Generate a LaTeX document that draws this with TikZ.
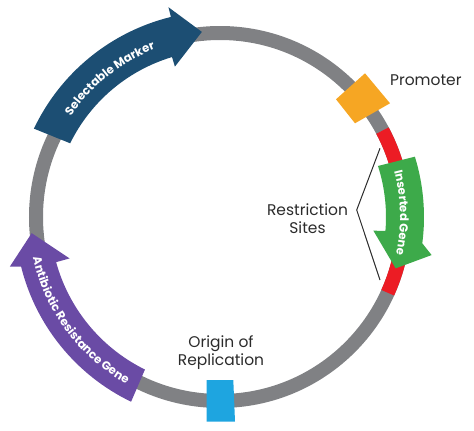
\documentclass[tikz,border=0pt]{standalone}
\usepackage{fontspec}
\setmainfont{Poppins}
\usetikzlibrary{decorations.text}
\definecolor{ringgray}{HTML}{808184}
\definecolor{smblue}{HTML}{1C4E73}
\definecolor{promo}{HTML}{F6A623}
\definecolor{rsred}{HTML}{EC1C24}
\definecolor{igreen}{HTML}{3DAA4A}
\definecolor{argpurple}{HTML}{6A4BA5}
\definecolor{oriblue}{HTML}{1EA5E0}
\definecolor{lblgray}{HTML}{2B2B2B}
\tikzset{
  ring/.style={draw=ringgray, line width=10.5pt},
  rsseg/.style={draw=rsred, line width=10.5pt},
  lbl/.style={text=lblgray, font=\fontsize{11.6}{13.5}\selectfont, align=center, inner sep=0pt},
  bracketline/.style={draw=lblgray, line width=0.75pt},
  arrowtext/.style={decorate, decoration={text along path, text align=center, text color=white}}
}
\begin{document}
\begin{tikzpicture}[x=0.75pt,y=0.75pt]
\useasboundingbox (0,0) rectangle (474,430);
\begin{scope}[shift={(220,213)}]
  % plasmid ring
  \draw[ring] (0,0) circle[radius=184];
  % restriction sites segment
  \draw[rsseg] (28:184) arc[start angle=28, end angle=-24.3, radius=184];
  % selectable marker arrow
  \fill[smblue] (153.8:167) arc[start angle=153.8, end angle=106.7, radius=167]
    -- (106.7:157) -- (95.6:186) -- (103.8:216) -- (103.8:206)
    arc[start angle=103.8, end angle=154.6, radius=206] -- cycle;
  % inserted gene arrow
  \fill[igreen] (17.2:204) arc[start angle=17.2, end angle=-7.4, radius=204]
    -- (-10.2:215) -- (-16.3:183) -- (-5.1:154) -- (-4.8:166)
    arc[start angle=-4.8, end angle=17.9, radius=166] -- cycle;
  % antibiotic resistance arrow
  \fill[argpurple] (244.3:205) arc[start angle=244.3, end angle=194, radius=205]
    -- (193.3:216) -- (184.9:189) -- (195.4:156) -- (195.4:170)
    arc[start angle=195.4, end angle=243.8, radius=170] -- cycle;
  % arrow texts
  \path[arrowtext, decoration={text={|\bfseries\fontsize{8.8}{9}\selectfont|Selectable Marker}}]
    (153:180) arc[start angle=153, end angle=104, radius=180];
  \path[arrowtext, decoration={text={|\bfseries\fontsize{8.8}{9}\selectfont|Inserted Gene}}]
    (26:180) arc[start angle=26, end angle=-23.4, radius=180];
  \path[arrowtext, decoration={text={|\bfseries\fontsize{8.8}{9}\selectfont|Antibiotic Resistance Gene}}]
    (186.5:191.5) arc[start angle=186.5, end angle=246.5, radius=191.5];
\end{scope}
% promoter block
\fill[promo] (336,330.7) -- (365,356.7) -- (390,326.7) -- (355,306.7) -- cycle;
% origin of replication block
\fill[oriblue] (206.7,50) -- (233.3,50) -- (235,8.3) -- (206.7,8.3) -- cycle;
% labels
\node[lbl] (promoterlbl) at (425.8,350) {Promoter};
\node[lbl] (rslbl) at (307.5,211) {Restriction\\Sites};
\node[lbl] (orilbl) at (221,77) {Origin of\\Replication};
% restriction sites bracket
\coordinate (rsA) at (380,281.7);
\coordinate (rsV) at (356.7,220);
\coordinate (rsB) at (380,150);
\draw[bracketline] (rsA) -- (rsV) -- (rsB);
\end{tikzpicture}
\end{document}
